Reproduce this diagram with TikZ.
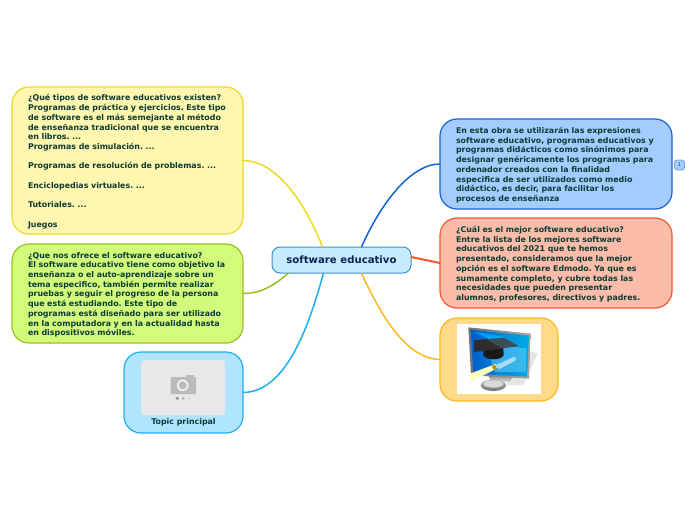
\documentclass[tikz,border=0pt]{standalone}
\usepackage{fontspec}
\setmainfont{DejaVu Sans}
\usetikzlibrary{calc}
\definecolor{txt}{HTML}{0B3B33}
\definecolor{yfill}{HTML}{FFF6B0}\definecolor{yline}{HTML}{EFD81E}
\definecolor{gfill}{HTML}{D2FB7C}\definecolor{gline}{HTML}{9BC021}
\definecolor{tfill}{HTML}{B0E5FD}\definecolor{tline}{HTML}{1CB0F0}
\definecolor{bfill}{HTML}{A6CCFF}\definecolor{bline}{HTML}{1463D2}
\definecolor{rfill}{HTML}{FBBDAA}\definecolor{rline}{HTML}{F9582B}
\definecolor{ofill}{HTML}{FFDA88}\definecolor{oline}{HTML}{FFB81E}
\definecolor{cfill}{HTML}{C5EBFD}\definecolor{cline}{HTML}{3D8FCB}
\newcommand{\firstl}{\rule{0pt}{8.6pt}}
\tikzset{
 topicbox/.style={draw,line width=1.2pt,outer sep=0pt,rounded corners=17pt,inner ysep=0pt,inner xsep=16pt,anchor=north west,align=left,text=txt,
   font=\fontsize{7.88}{9.7}\selectfont\bfseries\frenchspacing},
 link/.style={line width=1.5pt},
}
\begin{document}
\begin{tikzpicture}[x=1pt,y=-1pt]
\useasboundingbox (0,0) rectangle (696,520);
\fill[white] (0,0) rectangle (696,520);
\node[topicbox,fill=yfill,draw=yline,minimum width=231pt,minimum height=147pt,text width=199pt] (yellow) at (12,87) {\firstl ¿Qué tipos de software educativos existen?\\Programas de práctica y ejercicios. Este tipo\\de software es el más semejante al método\\de enseñanza tradicional que se encuentra\\en libros. ...\\Programas de simulación. ...\\\mbox{}\\Programas de resolución de problemas. ...\\\mbox{}\\Enciclopedias virtuales. ...\\\mbox{}\\Tutoriales. ...\\\mbox{}\\Juegos};
\node[topicbox,fill=gfill,draw=gline,minimum width=231pt,minimum height=99pt,text width=199pt] (green) at (12,244) {\firstl ¿Que nos ofrece el software educativo?\\El software educativo tiene como objetivo la\\enseñanza o el auto-aprendizaje sobre un\\tema especifico, también permite realizar\\pruebas y seguir el progreso de la persona\\que está estudiando. Este tipo de\\programas está diseñado para ser utilizado\\en la computadora y en la actualidad hasta\\en dispositivos móviles.};
\node[draw=tline,fill=tfill,line width=1.2pt,outer sep=0pt,rounded corners=17pt,minimum width=119pt,minimum height=81pt,anchor=north west] (topic) at (124,352) {};
\node[fill=black!9,rounded corners=3pt,minimum width=84pt,minimum height=55pt,inner sep=0pt,anchor=north west] (photo) at (141,360) {};
\node[anchor=center,text=txt,font=\fontsize{7.88}{9.7}\selectfont\bfseries,inner sep=0pt] (topiclabel) at (183.5,422) {Topic principal};
% camera
\fill[black!27,rounded corners=0.6pt] (170.7,377) rectangle (196,394);
\fill[black!27] (186,375) rectangle (194,378);
\fill[black!6] (182.7,385.3) circle (5.9);
\fill[black!27] (182.7,385.3) circle (4);
\fill[black!42] (177.3,398.3) circle (1.8);
\fill[black!28] (183.3,398.3) circle (1.7);
\fill[black!13] (189.3,398.3) circle (1.7);

\node[topicbox,fill=bfill,draw=bline,minimum width=232pt,minimum height=90pt,text width=200pt] (blue) at (440,119) {\firstl En esta obra se utilizarán las expresiones\\software educativo, programas educativos y\\programas didácticos como sinónimos para\\designar genéricamente los programas para\\ordenador creados con la finalidad\\especifica de ser utilizados como medio\\didáctico, es decir, para facilitar los\\procesos de enseñanza};
\node[topicbox,fill=rfill,draw=rline,minimum width=232pt,minimum height=90pt,text width=200pt] (red) at (440,218) {\firstl ¿Cuál es el mejor software educativo?\\Entre la lista de los mejores software\\educativos del 2021 que te hemos\\presentado, consideramos que la mejor\\opción es el software Edmodo. Ya que es\\sumamente completo, y cubre todas las\\necesidades que pueden presentar\\alumnos, profesores, directivos y padres.};
\node[draw=oline,fill=ofill,line width=1.2pt,outer sep=0pt,rounded corners=17pt,minimum width=118pt,minimum height=83pt,anchor=north west] (orange) at (440,318) {};
\node[fill=white,minimum width=84pt,minimum height=70pt,inner sep=0pt,anchor=north west] (pic) at (457,324) {};
% monitor scene, in crop coordinates
\begin{scope}[shift={(455,322)},x=0.3333pt,y=-0.3333pt]
\fill[black!10] (222,88) -- (248,95) -- (205,190) -- (150,190) -- cycle;
\shade[top color=black!45,bottom color=black!12] (100,160) -- (172,165) -- (165,180) -- (108,178) -- cycle;
\shade[top color=black!30,bottom color=black!55] (115,190) ellipse (38 and 17);
\fill[black!15] (115,186) ellipse (30 and 11);
\shade[left color=black!55,right color=black!35] (40,16) -- (228,35) -- (222,170) -- (48,160) -- cycle;
\shade[left color=blue!55!cyan!80!black,right color=cyan!75!blue!90!black] (47,23) -- (222,41) -- (216,164) -- (55,155) -- cycle;
\fill[cyan!60!white,opacity=.55] (90,60) -- (215,80) -- (212,150) -- (120,150) -- cycle;
\fill[black!15!blue!30!cyan,opacity=.75] (60,30) -- (150,45) -- (190,72) -- (120,60) -- cycle;
\fill[black!82] (57,54) -- (148,48) -- (190,72) -- (57,90) -- cycle;
\fill[cyan!40!black,opacity=.55] (95,52) -- (148,48) -- (190,72) -- (140,78) -- cycle;
\fill[black!90] (85,86) -- (145,78) -- (146,100) .. controls (138,116) and (94,116) .. (85,100) -- cycle;
\fill[white,opacity=.55] (125,128) -- (178,104) -- (184,114) -- (132,142) -- cycle;
\fill[yellow!25!white] (45,155) -- (122,126) -- (128,138) -- (50,178) -- cycle;
\fill[orange!35!yellow!70!black] (110,132) -- (120,128) -- (126,140) -- (116,144) -- cycle;
\end{scope}

\node[draw=cline,fill=cfill,line width=1pt,outer sep=0pt,rounded corners=8pt,minimum width=139pt,minimum height=26pt,inner sep=0pt,anchor=north west,text={rgb,255:red,11;green,35;blue,85},font=\fontsize{10.15}{11}\selectfont\bfseries] (center) at (272,247) {software educativo};

\draw[link,yline] (yellow.east) .. controls (280,161) and (308,210) .. ([xshift=-19pt]center.north);
\draw[link,gline] (green.east) .. controls (262,294) and (277,283) .. ([xshift=-53pt]center.south);
\draw[link,tline] (topic.east) .. controls (285,392) and (308,330) .. ([xshift=-18pt]center.south);
\draw[link,bline] (blue.west) .. controls (410,164) and (380,205) .. ([xshift=20pt]center.north);
\draw[link,rline,line width=2pt] ([yshift=3pt]center.east) -- (red.west);
\draw[link,oline] (orange.west) .. controls (410,359) and (385,325) .. ([xshift=20pt]center.south);

\node[draw=bline!60,fill=bfill,line width=0.8pt,rounded corners=2.5pt,minimum width=10pt,minimum height=10pt,inner sep=0pt,text=txt,font=\fontsize{5}{5}\selectfont] (badge) at (679.5,165) {1};
\end{tikzpicture}
\end{document}
